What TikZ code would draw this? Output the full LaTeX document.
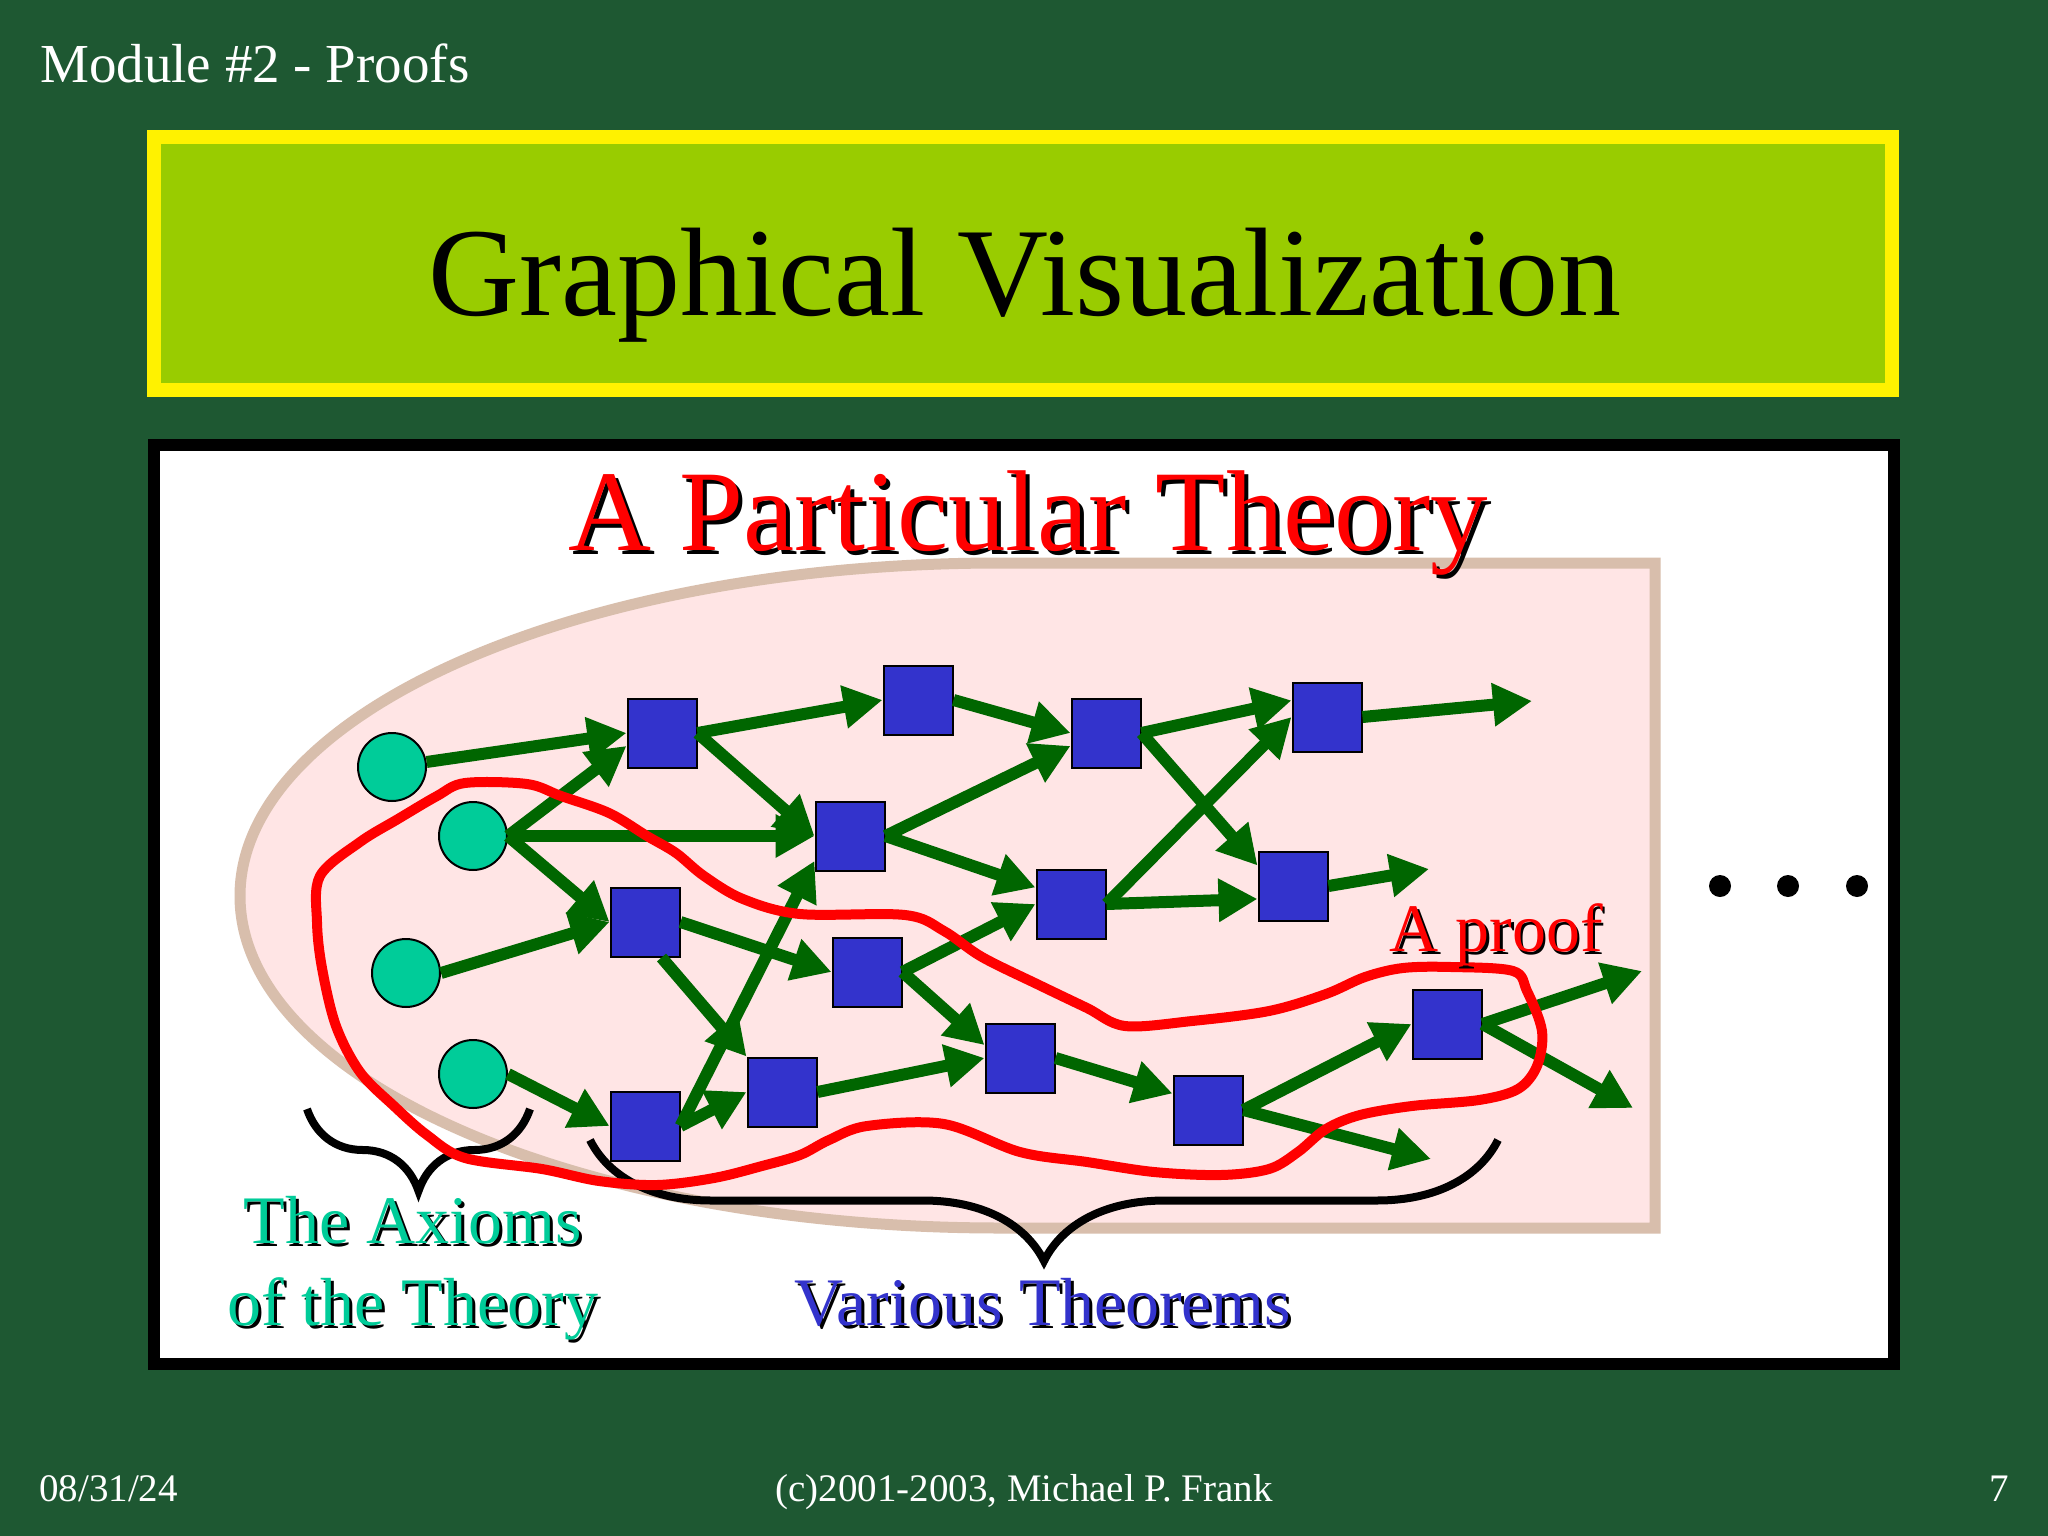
\documentclass[tikz,border=0pt]{standalone}
\usepackage{fontspec}
\setmainfont{Liberation Serif}
\usepackage{xcolor}
\usepackage{tikz}
\usetikzlibrary{arrows.meta,decorations.pathreplacing,shapes,positioning}
\tikzset{>={Triangle[length=39pt,width=41pt]}}

\definecolor{slidegreen}{RGB}{30,88,50}
\definecolor{titlegreen}{RGB}{153,204,0}
\definecolor{axiomcol}{RGB}{0,204,153}
\definecolor{thmcol}{RGB}{51,51,204}
\definecolor{linkcol}{RGB}{0,102,0}
\definecolor{theorypink}{RGB}{255,229,229}
\definecolor{theorytan}{RGB}{216,190,172}

% text with a black drop shadow
\newcommand{\shadowed}[3]{\leavevmode\rlap{\kern#3\raisebox{-#3}{\color{black}#2}}{\color{#1}#2}}

\begin{document}
\begin{tikzpicture}[x=1pt,y=-1pt,
                    axiom/.style={circle, draw=black, line width=2pt, fill=axiomcol, minimum size=68pt, inner sep=0pt},
                    thm/.style={rectangle, draw=black, line width=2pt, fill=thmcol, minimum size=69pt, inner sep=0pt},
                    link/.style={->, line width=12pt, linkcol},
                    curly/.style={decorate, line width=8pt, black},
                    proofline/.style={line width=10pt, red, line join=round},
                    footer/.style={white, anchor=base, font=\fontsize{39}{42}\selectfont},
                   ]

\useasboundingbox (0,0) rectangle (2048,1536);
\fill[slidegreen] (0,0) rectangle (2048,1536);

% title bar
\draw[line width=13.5pt, yellow, fill=titlegreen] (154,137) rectangle (1892,390);
\node[anchor=base, font=\fontsize{126}{130}\selectfont] (title) at (1025,315) {Graphical Visualization};

% white panel and the theory region
\draw[line width=12pt, black, fill=white] (154,445) rectangle (1894,1364);
\draw[line width=11pt, theorytan, fill=theorypink]
  (1655,563) -- (1000,563) .. controls (580,563) and (240,712) .. (240,896)
  .. controls (240,1080) and (580,1228) .. (1000,1228) -- (1655,1228) -- cycle;

\node[anchor=base, font=\fontsize{115}{120}\selectfont] (theory) at (1028,550) {\shadowed{red}{A Particular Theory}{4pt}};

% braces
\draw[curly, decoration={brace, mirror, amplitude=82pt}] (307,1109) -- (530,1109);
\draw[curly, decoration={brace, mirror, amplitude=121pt}] (590,1140) -- (1498,1140);

% axioms
\node[axiom] (A1) at (392,767) {};
\node[axiom] (A2) at (473,836) {};
\node[axiom] (A3) at (406,973) {};
\node[axiom] (A4) at (473,1074) {};

% theorems
\node[thm] (T1) at (662,733) {};
\node[thm] (T2) at (918,700) {};
\node[thm] (T3) at (1106,733) {};
\node[thm] (T4) at (1327,717) {};
\node[thm] (T5) at (850,836) {};
\node[thm] (T6) at (645,922) {};
\node[thm] (T7) at (1071,904) {};
\node[thm] (T8) at (1293,886) {};
\node[thm] (T9) at (867,972) {};
\node[thm] (T10) at (1020,1058) {};
\node[thm] (T11) at (782,1092) {};
\node[thm] (T12) at (645,1126) {};
\node[thm] (T13) at (1208,1110) {};
\node[thm] (T14) at (1447,1024) {};

\coordinate (e4) at (1532,701);
\coordinate (e8) at (1429,869);
\coordinate (e13) at (1431,1159);
\coordinate (e14a) at (1642,971);
\coordinate (e14b) at (1633,1108);

% inferences
\draw[link] (A1) -- (T1.west);
\draw[link] (A2.east) -- (T1.200);
\draw[link] (A2.east) -- (T5.west);
\draw[link] (A2.east) -- (T6.west);
\draw[link] (A3.east) -- (T6.west);
\draw[link] (A4.east) -- (T12.west);
\draw[link] (T1.east) -- (T2.west);
\draw[link] (T1.east) -- (T5.west);
\draw[link] (T2.east) -- (T3.west);
\draw[link] (T5.east) -- (T3.200);
\draw[link] (T5.east) -- (T7.155);
\draw[link] (T3.east) -- (T4.155);
\draw[link] (T3.east) -- (T8.150);
\draw[link] (T7.east) -- (T4.west);
\draw[link] (T7.east) -- (T8.200);
\draw[link] (T4.east) -- (e4);
\draw[link] (T8.east) -- (e8);
\draw[link] (T6.east) -- (T9.west);
\draw[link] (T6.-65) -- (T11.north west);
\draw[link] (T12.east) -- (T5.215);
\draw[link] (T12.east) -- (T11.west);
\draw[link] (T9.east) -- (T7.west);
\draw[link] (T9.east) -- (T10.160);
\draw[link] (T11.east) -- (T10.west);
\draw[link] (T10.east) -- (T13.155);
\draw[link] (T13.east) -- (T14.west);
\draw[link] (T13.east) -- (e13);
\draw[link] (T14.east) -- (e14a);
\draw[link] (T14.east) -- (e14b);

% the proof
\draw[proofline] plot[smooth cycle, tension=0.55] coordinates {
  (465,783) (527,784) (561,796) (609,813) (647,836) (676,853) (704,876) (743,899)
  (800,914) (905,915) (944,931) (982,957) (1039,985) (1087,1008) (1125,1026)
  (1192,1021) (1269,1011) (1326,994) (1365,977) (1403,968) (1451,967) (1513,971)
  (1527,991) (1542,1031) (1537,1066) (1518,1089) (1479,1100) (1412,1106)
  (1360,1115) (1326,1129) (1298,1152) (1269,1169) (1221,1175) (1154,1172)
  (1087,1162) (1020,1152) (944,1124) (867,1126) (829,1140) (800,1155) (762,1166)
  (714,1178) (657,1185) (599,1181) (542,1169) (465,1158) (427,1135) (394,1106)
  (360,1072) (336,1026) (322,968) (317,922) (320,876) (360,842) (398,819) (437,796)};

% more theorems
\fill (1720,886) circle (11pt);
\fill (1788,886) circle (11pt);
\fill (1857,886) circle (11pt);

% labels
\node[anchor=base, font=\fontsize{68}{82}\selectfont, align=center] (axlabel) at (413,1325)
  {\shadowed{axiomcol}{The Axioms}{3pt}\\\shadowed{axiomcol}{of the Theory}{3pt}};
\node[anchor=base, font=\fontsize{68}{82}\selectfont] (thmlabel) at (1043,1325) {\shadowed{thmcol}{Various Theorems}{3pt}};
\node[anchor=base, font=\fontsize{68}{82}\selectfont] (prooflabel) at (1496,951) {\shadowed{red}{A proof}{3pt}};

% slide header and footer
\node[anchor=base west, white, font=\fontsize{55}{60}\selectfont, inner sep=0pt] (module) at (40,83) {Module \#2 - Proofs};
\node[footer, anchor=base west, inner sep=0pt] (date) at (39,1501) {08/31/24};
\node[footer] (credit) at (1024,1501) {(c)2001-2003, Michael P. Frank};
\node[footer] (pagenum) at (1999,1501) {7};

\end{tikzpicture}
\end{document}
